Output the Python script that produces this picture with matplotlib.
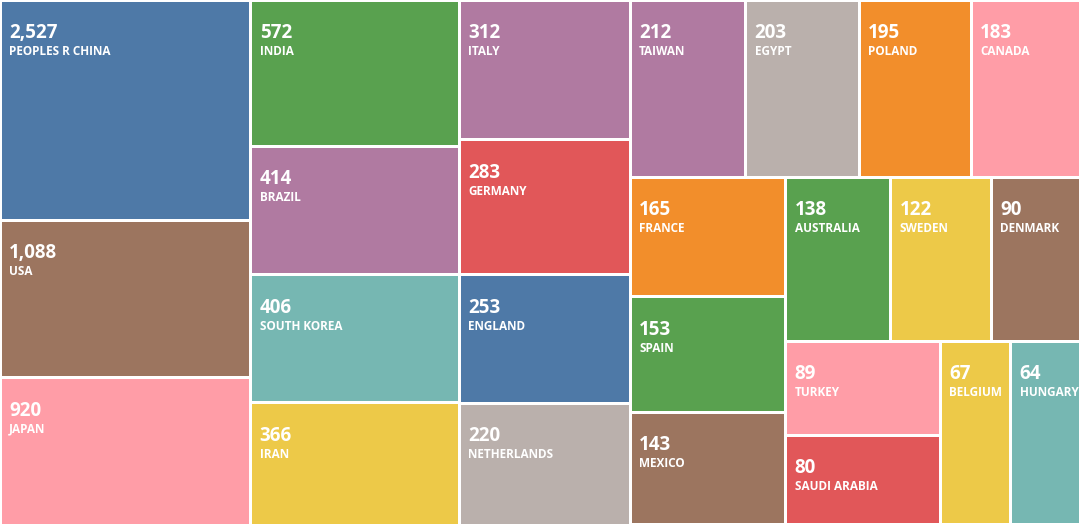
import matplotlib.pyplot as plt
from matplotlib.patches import Rectangle

countries = ["PEOPLES R CHINA", "USA", "JAPAN", "INDIA", "BRAZIL", "SOUTH KOREA", "IRAN",
             "ITALY", "GERMANY", "ENGLAND", "NETHERLANDS", "TAIWAN", "EGYPT", "POLAND", "CANADA",
             "FRANCE", "SPAIN", "MEXICO", "AUSTRALIA", "SWEDEN", "DENMARK", "TURKEY",
             "SAUDI ARABIA", "BELGIUM", "HUNGARY"]
counts = [2527, 1088, 920, 572, 414, 406, 366, 312, 283, 253, 220, 212, 203, 195, 183,
          165, 153, 143, 138, 122, 90, 89, 80, 67, 64]
colors = ["#4e79a7", "#9c755f", "#ff9da7", "#59a14f", "#b07aa1", "#76b7b2", "#edc948",
          "#b07aa1", "#e15759", "#4e79a7", "#bab0ac", "#b07aa1", "#bab0ac", "#f28e2b", "#ff9da7",
          "#f28e2b", "#59a14f", "#9c755f", "#59a14f", "#edc948", "#9c755f", "#ff9da7",
          "#e15759", "#edc948", "#76b7b2"]

# nested grouping of the treemap (indices into the lists); 'h' splits left-right, 'v' top-bottom
tree = ('h', [('v', [0, 1, 2]), ('v', [3, 4, 5, 6]), ('v', [7, 8, 9, 10]),
              ('v', [('h', [11, 12, 13, 14]),
                     ('h', [('v', [15, 16, 17]),
                            ('v', [('h', [18, 19, 20]),
                                   ('h', [('v', [21, 22]), 23, 24])])])])])

W, H = 1080, 525
weights = [c ** 0.4 for c in counts]


def wsum(node):
    if isinstance(node, int):
        return weights[node]
    return sum(wsum(n) for n in node[1])


rects = {}


def layout(node, x, y, w, h):
    if isinstance(node, int):
        rects[node] = (x, y, w, h)
        return
    d, kids = node
    tot = wsum(node)
    pos = 0
    for k in kids:
        f = wsum(k) / tot
        if d == 'h':
            layout(k, x + pos * w, y, f * w, h)
        else:
            layout(k, x, y + pos * h, w, f * h)
        pos += f


layout(tree, 0, 0, W, H)

fig = plt.figure(figsize=(10.8, 5.25), dpi=100)
ax = fig.add_axes([0, 0, 1, 1])
ax.set_xlim(0, W)
ax.set_ylim(H, 0)
ax.axis('off')

gap = 1.5
for i, (x, y, w, h) in rects.items():
    r = Rectangle((x + gap, y + gap), w - 2 * gap, h - 2 * gap, facecolor=colors[i], edgecolor='none')
    ax.add_patch(r)
    t1 = ax.text(x + 9, y + 38, f"{counts[i]:,}", color='white', fontsize=13.5, fontweight='bold',
                 family='Open Sans', va='baseline')
    t2 = ax.text(x + 9, y + 55, countries[i], color='white', fontsize=8.5, fontweight='bold',
                 family='Open Sans', va='baseline')
    t1.set_clip_path(r)
    t2.set_clip_path(r)

fig.savefig("out.png", dpi=100)
